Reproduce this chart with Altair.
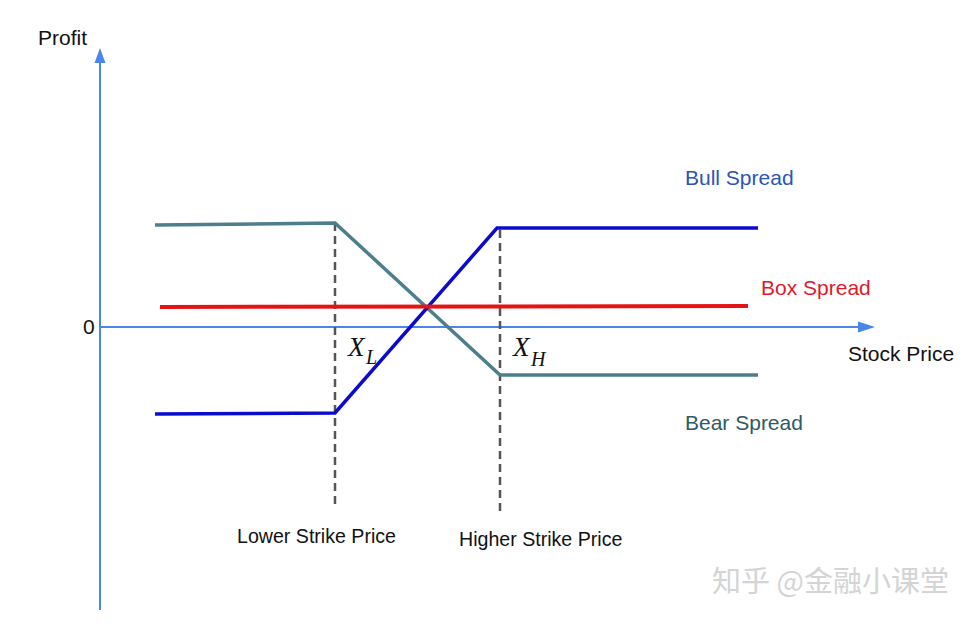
import altair as alt
import pandas as pd

# ---- data (x: stock price units, y: profit units; origin where axes cross) ----
bear_x = [5.5, 23.5, 40.0, 65.8]
bear_y = [10.2, 10.4, -4.8, -4.8]
bull_x = [5.5, 23.5, 39.7, 65.8]
bull_y = [-8.7, -8.6, 9.9, 9.9]
box_x = [6.0, 64.8]
box_y = [2.0, 2.1]

strike_x = [23.5, 40.0]
strike_top = [10.4, 9.7]
strike_bottom = [-17.8, -18.5]

axis_labels = ["Profit", "0", "Stock Price"]
axis_label_x = [-6.2, -1.7, 74.8]
axis_label_y = [28.8, -0.1, -2.8]

series_labels = ["Bull Spread", "Box Spread", "Bear Spread"]
series_label_x = [58.5, 66.1, 58.5]
series_label_y = [14.8, 3.8, -9.7]
series_label_colors = ["#2a55b5", "#e0192b", "#2e5a66"]

strike_labels = ["Lower Strike Price", "Higher Strike Price"]
strike_label_x = [13.7, 35.9]
strike_label_y = [-21.0, -21.3]

sym_main = ["X", "X"]
sym_main_x = [24.8, 41.3]
sym_main_y = [-2.1, -2.1]
sym_sub = ["L", "H"]
sym_sub_x = [26.6, 43.1]
sym_sub_y = [-3.1, -3.3]

watermark = "知乎 @金融小课堂"

XD = [-9.2, 86.6]
YD = [-28.9, 31.9]
xs = alt.Scale(domain=XD, nice=False, zero=False)
ys = alt.Scale(domain=YD, nice=False, zero=False)

def X(f="x"):
    return alt.X(f"{f}:Q", scale=xs, axis=None)

def Y(f="y"):
    return alt.Y(f"{f}:Q", scale=ys, axis=None)

AXIS_COLOR = "#4a86e8"

# axes
axes_df = pd.DataFrame({"x": [0.0, 0.0], "x2": [0.0, 75.8], "y": [-28.3, 0.0], "y2": [26.4, 0.0]})
axes = alt.Chart(axes_df).mark_rule(color=AXIS_COLOR, strokeWidth=2).encode(
    x=X(), x2="x2:Q", y=Y(), y2="y2:Q")

up_arrow = alt.Chart(pd.DataFrame({"x": [0.0], "y": [27.15]})).mark_point(
    shape="M0,-1L-0.73,1L0.73,1Z", size=225, filled=True, color=AXIS_COLOR, opacity=1, strokeWidth=0
).encode(x=X(), y=Y())
right_arrow = alt.Chart(pd.DataFrame({"x": [76.65], "y": [0.0]})).mark_point(
    shape="M1,0L-1,-0.65L-1,0.65Z", size=289, filled=True, color=AXIS_COLOR, opacity=1, strokeWidth=0
).encode(x=X(), y=Y())

# dashed strike lines
dash_df = pd.DataFrame({"x": strike_x, "y": strike_top, "y2": strike_bottom})
dashes = alt.Chart(dash_df).mark_rule(color="#555555", strokeWidth=2.5, strokeDash=[8, 5]).encode(
    x=X(), y=Y(), y2="y2:Q")

bear = alt.Chart(pd.DataFrame({"x": bear_x, "y": bear_y})).mark_line(
    color="#4c7f8b", strokeWidth=3.5).encode(x=X(), y=Y())
bull = alt.Chart(pd.DataFrame({"x": bull_x, "y": bull_y})).mark_line(
    color="#0b0bcc", strokeWidth=3.5).encode(x=X(), y=Y())
box = alt.Chart(pd.DataFrame({"x": box_x, "y": box_y})).mark_line(
    color="#e51414", strokeWidth=4).encode(x=X(), y=Y())

FONT = "Liberation Sans"

axis_text = alt.Chart(pd.DataFrame({"t": axis_labels, "x": axis_label_x, "y": axis_label_y})).mark_text(
    align="left", baseline="middle", font=FONT, fontSize=21, color="#111111").encode(
    x=X(), y=Y(), text="t:N")

series_text = alt.Chart(pd.DataFrame({"t": series_labels, "x": series_label_x, "y": series_label_y,
                                      "c": series_label_colors})).mark_text(
    align="left", baseline="middle", font=FONT, fontSize=21).encode(
    x=X(), y=Y(), text="t:N", color=alt.Color("c:N", scale=None))

strike_text = alt.Chart(pd.DataFrame({"t": strike_labels, "x": strike_label_x, "y": strike_label_y})).mark_text(
    align="left", baseline="middle", font=FONT, fontSize=19.6, color="#111111").encode(
    x=X(), y=Y(), text="t:N")

sym_text = alt.Chart(pd.DataFrame({"t": sym_main, "x": sym_main_x, "y": sym_main_y})).mark_text(
    align="left", baseline="middle", font="Liberation Serif", fontStyle="italic", fontSize=27,
    color="#111111").encode(x=X(), y=Y(), text="t:N")
sub_text = alt.Chart(pd.DataFrame({"t": sym_sub, "x": sym_sub_x, "y": sym_sub_y})).mark_text(
    align="left", baseline="middle", font="Liberation Serif", fontStyle="italic", fontSize=20,
    color="#111111").encode(x=X(), y=Y(), text="t:N")

wm = alt.Chart(pd.DataFrame({"t": [watermark], "x": [61.2], "y": [-25.6]})).mark_text(
    align="left", baseline="middle", font="Noto Sans CJK SC", fontSize=29, color="#d4d4d4").encode(
    x=X(), y=Y(), text="t:N")

chart = alt.layer(
    axes, up_arrow, right_arrow, dashes, bear, bull, box,
    axis_text, series_text, strike_text, sym_text, sub_text, wm
).properties(
    width=958, height=608, padding=0,
    autosize=alt.AutoSizeParams(type="fit", contains="padding"),
    background="white"
).configure_view(strokeWidth=0)

chart.save("out.html", embed_options={"renderer": "svg", "actions": False})
